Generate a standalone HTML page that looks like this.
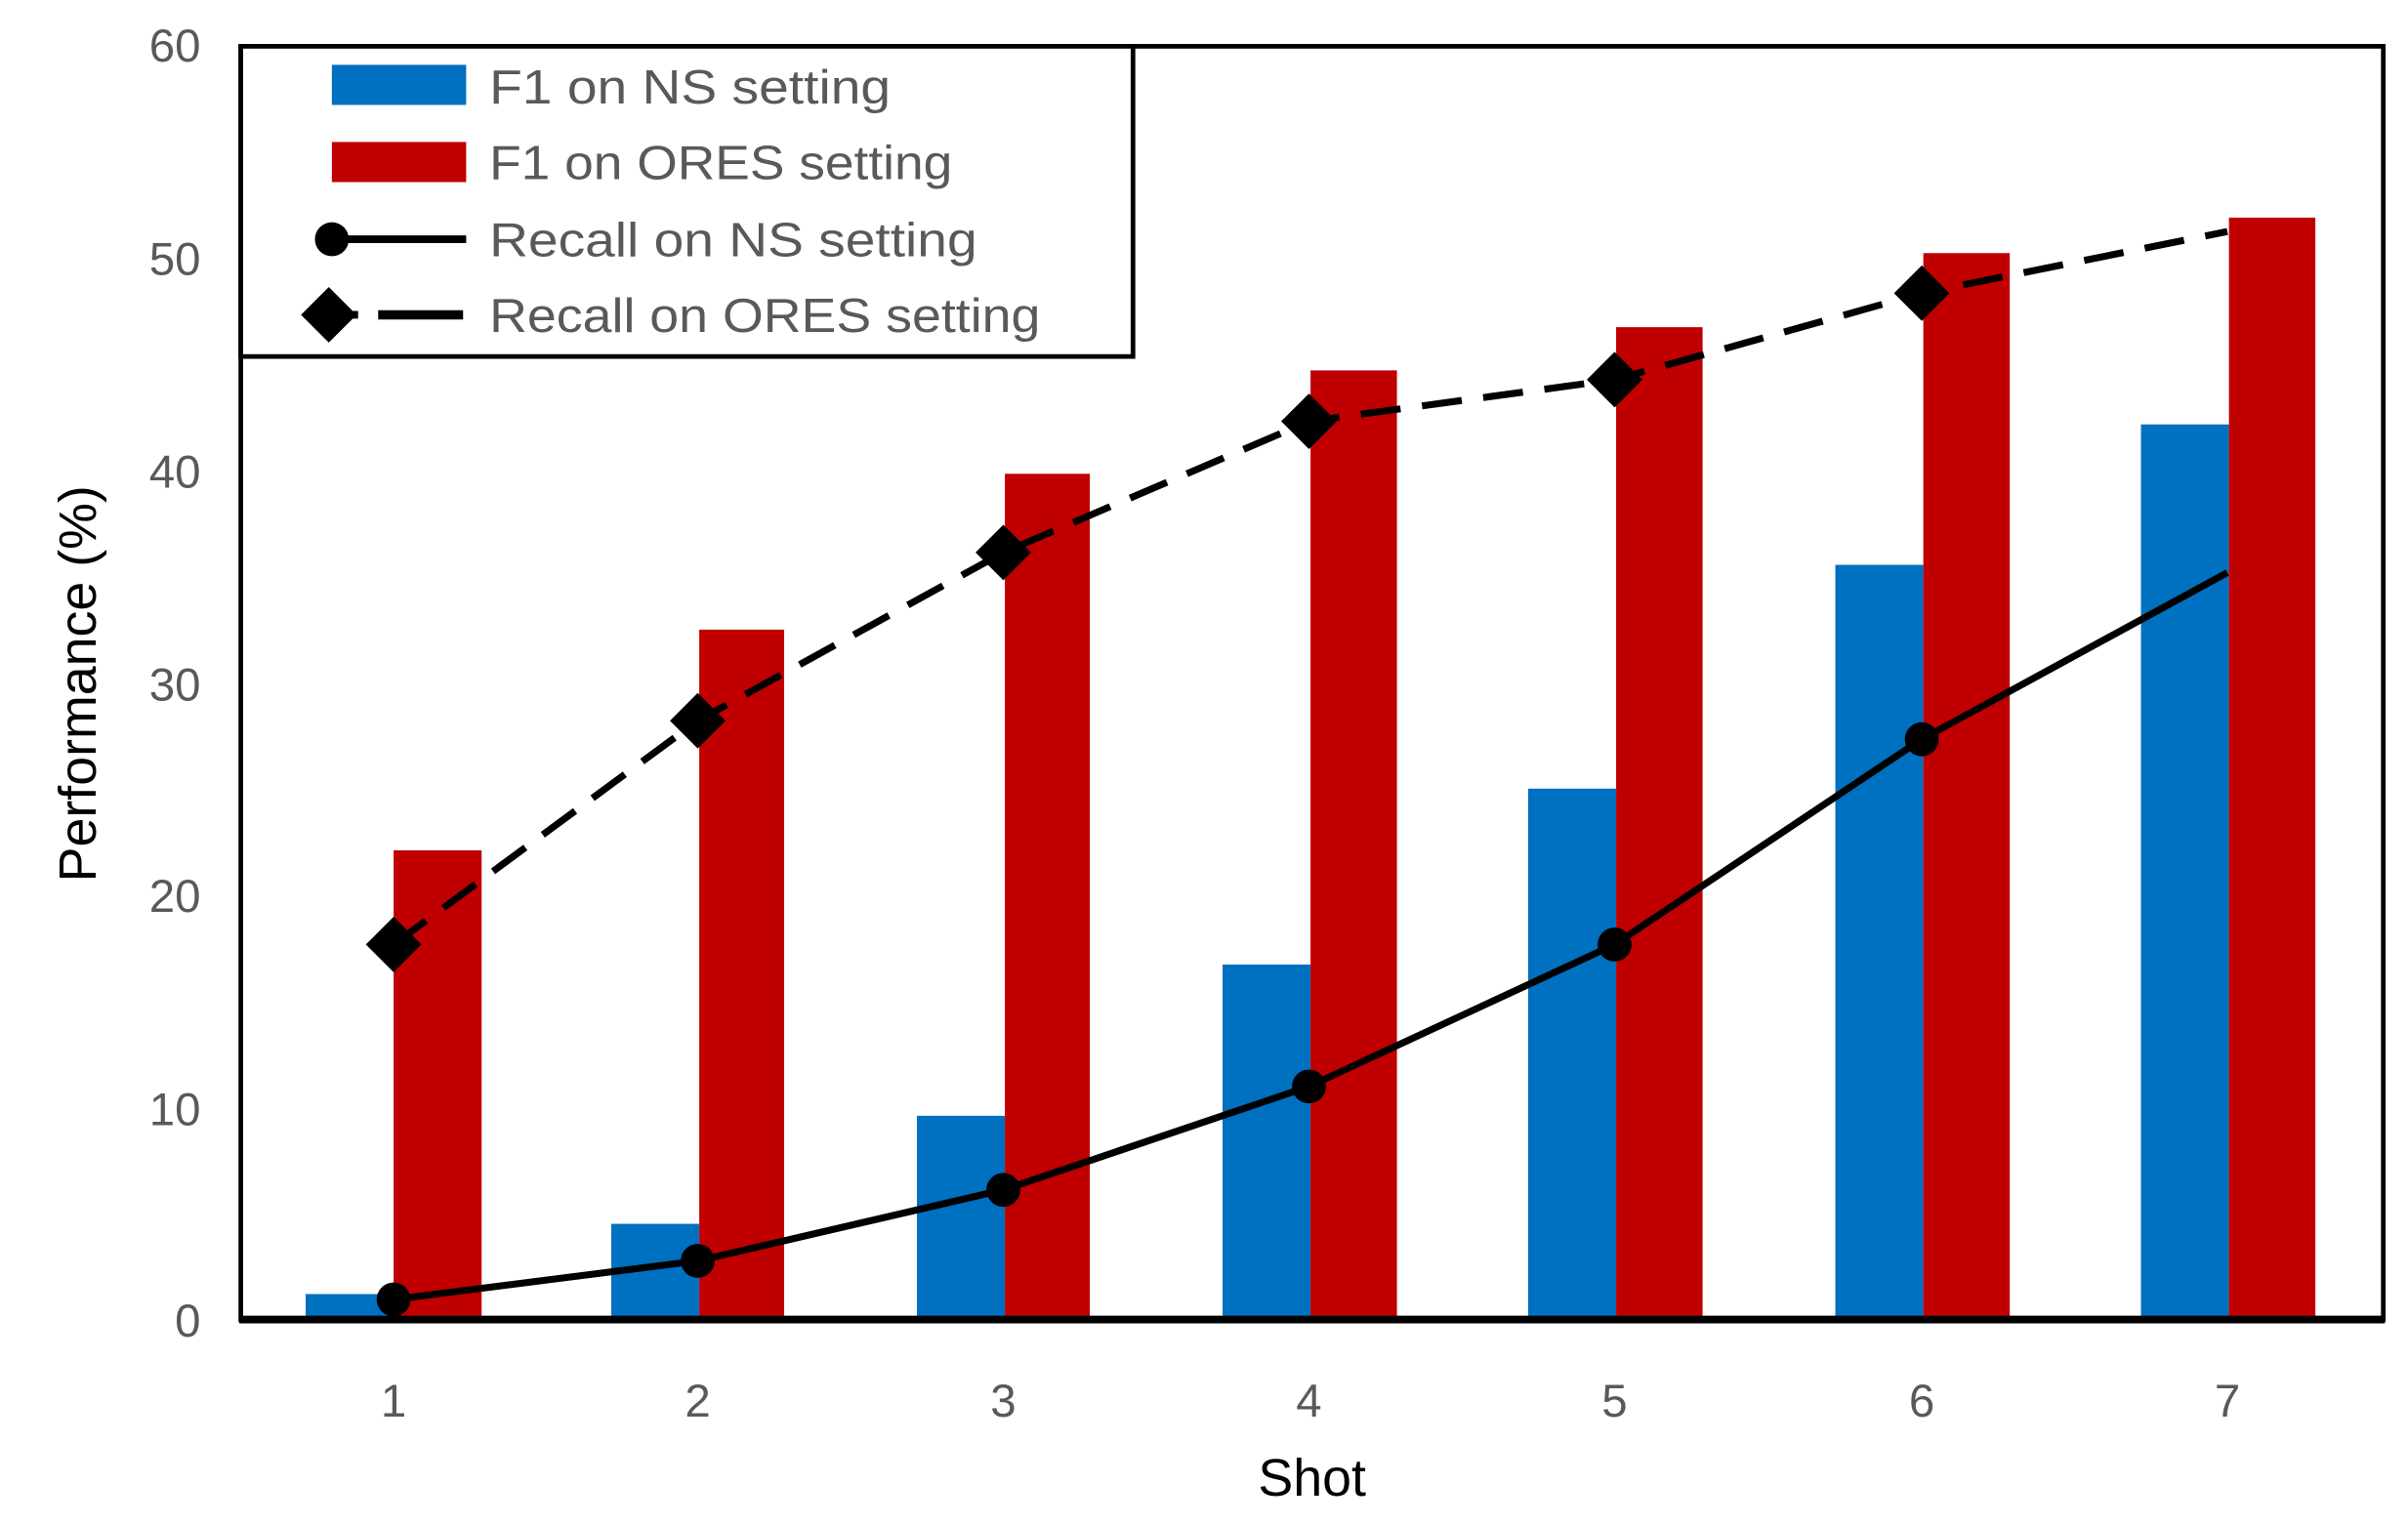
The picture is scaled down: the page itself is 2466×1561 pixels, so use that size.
<!DOCTYPE html>
<html><head><meta charset="utf-8"><style>html,body{margin:0;padding:0;background:#fff}svg{display:block}</style></head>
<body>
<svg width="2466" height="1561" viewBox="0 0 1560 987.5" xmlns="http://www.w3.org/2000/svg" font-family="Liberation Sans, sans-serif">
<rect width="1560" height="987.5" fill="#fff"/>
<!-- bars: y(v)=855-13.77*v -->
<g fill="#0070C0">
<rect x="198" y="838.5" width="57" height="16.5"/>
<rect x="396" y="793" width="57" height="62"/>
<rect x="594" y="723" width="57" height="132"/>
<rect x="792" y="625" width="57" height="230"/>
<rect x="990" y="511" width="57" height="344"/>
<rect x="1189" y="366" width="57" height="489"/>
<rect x="1387" y="275" width="57" height="580"/>
</g>
<g fill="#C00000">
<rect x="255" y="551" width="57" height="304"/>
<rect x="453" y="408" width="55" height="447"/>
<rect x="651" y="307" width="55" height="548"/>
<rect x="849" y="240" width="56" height="615"/>
<rect x="1047" y="212" width="56" height="643"/>
<rect x="1246" y="164" width="56" height="691"/>
<rect x="1444" y="141" width="56" height="714"/>
</g>
<!-- axes frame -->
<rect x="156" y="30" width="1388" height="825" fill="none" stroke="#000" stroke-width="3"/>
<line x1="155" y1="855" x2="1545" y2="855" stroke="#000" stroke-width="5"/>
<!-- lines -->
<polyline points="255,842 452,817 650,771 848,704 1046,612 1245,479 1443,371" fill="none" stroke="#000" stroke-width="4.5"/>
<g fill="#000">
<circle cx="255" cy="842" r="11"/><circle cx="452" cy="817" r="11"/><circle cx="650" cy="771" r="11"/>
<circle cx="848" cy="704" r="11"/><circle cx="1046" cy="612" r="11"/><circle cx="1245" cy="479" r="11"/>
</g>
<polyline points="255,612 452,467 650,358 848,273 1046,246 1245,190 1443,150" fill="none" stroke="#000" stroke-width="4.5" stroke-dasharray="26,14"/>
<g fill="#000">
<polygon points="255,594 273,612 255,630 237,612"/>
<polygon points="452,449 470,467 452,485 434,467"/>
<polygon points="650,340 668,358 650,376 632,358"/>
<polygon points="848,255 866,273 848,291 830,273"/>
<polygon points="1046,228 1064,246 1046,264 1028,246"/>
<polygon points="1245,172 1263,190 1245,208 1227,190"/>
</g>
<!-- legend -->
<rect x="156" y="30" width="578" height="201" fill="#fff" stroke="#000" stroke-width="3"/>
<rect x="215" y="42" width="87" height="26" fill="#0070C0"/>
<rect x="215" y="92" width="87" height="26" fill="#C00000"/>
<line x1="215" y1="155" x2="302" y2="155" stroke="#000" stroke-width="5"/>
<circle cx="215" cy="155" r="11" fill="#000"/>
<polygon points="213,186 231,204 213,222 195,204" fill="#000"/>
<line x1="213" y1="204" x2="232" y2="204" stroke="#000" stroke-width="5"/>
<line x1="245" y1="204" x2="300" y2="204" stroke="#000" stroke-width="6"/>
<g fill="#595959" font-size="31">
<text x="317" y="67" textLength="260" lengthAdjust="spacingAndGlyphs">F1 on NS setting</text>
<text x="317" y="116" textLength="300" lengthAdjust="spacingAndGlyphs">F1 on ORES setting</text>
<text x="317" y="166" textLength="316" lengthAdjust="spacingAndGlyphs">Recall on NS setting</text>
<text x="317" y="215" textLength="357" lengthAdjust="spacingAndGlyphs">Recall on ORES setting</text>
</g>
<!-- y ticks -->
<g fill="#595959" font-size="30" text-anchor="end">
<text x="130" y="40">60</text><text x="130" y="178">50</text><text x="130" y="316">40</text>
<text x="130" y="454">30</text><text x="130" y="591">20</text><text x="130" y="729">10</text><text x="130" y="866">0</text>
</g>
<g fill="#595959" font-size="30" text-anchor="middle">
<text x="255" y="918">1</text><text x="452" y="918">2</text><text x="650" y="918">3</text><text x="848" y="918">4</text>
<text x="1046" y="918">5</text><text x="1245" y="918">6</text><text x="1443" y="918">7</text>
</g>
<text x="850" y="969" font-size="34" text-anchor="middle" fill="#000">Shot</text>
<text transform="translate(62,443) rotate(-90)" font-size="34" text-anchor="middle" fill="#000">Performance (%)</text>
</svg>
</body></html>
